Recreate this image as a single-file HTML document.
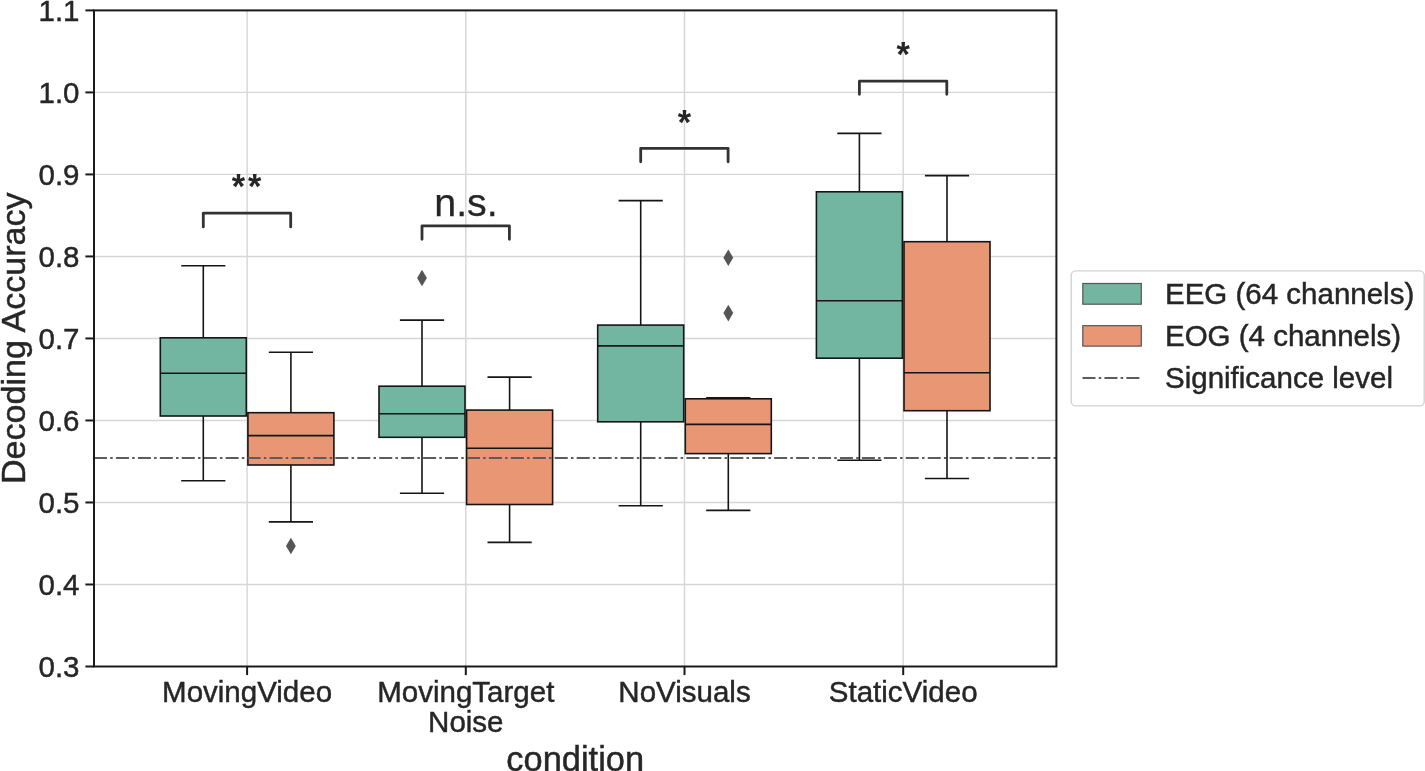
<!DOCTYPE html>
<html><head><meta charset="utf-8"><title>Decoding Accuracy by condition</title>
<style>
html,body{margin:0;padding:0;background:#fff;}
svg{display:block;}
text{font-family:"Liberation Sans",Arial,sans-serif;fill:#262626;stroke:#262626;stroke-width:0.45px;}
.tick{font-size:29.5px;}
.lab{font-size:34.4px;}
.ylab{font-size:34.1px;}
.leg{font-size:29.5px;}
.ann{font-size:39.4px;stroke-width:0.25px;}
.star{font-size:34.3px;font-weight:bold;letter-spacing:2.7px;stroke:none;}
</style></head><body>
<svg width="1425" height="771" viewBox="0 0 1425 771">
<rect x="0" y="0" width="1425" height="771" fill="#ffffff"/>
<g stroke="#d6d6d6" stroke-width="1.4" fill="none">
<line x1="247.1" y1="10.4" x2="247.1" y2="666.5"/>
<line x1="465.8" y1="10.4" x2="465.8" y2="666.5"/>
<line x1="684.5" y1="10.4" x2="684.5" y2="666.5"/>
<line x1="903.2" y1="10.4" x2="903.2" y2="666.5"/>
<line x1="94.0" y1="584.49" x2="1056.4" y2="584.49"/>
<line x1="94.0" y1="502.48" x2="1056.4" y2="502.48"/>
<line x1="94.0" y1="420.46" x2="1056.4" y2="420.46"/>
<line x1="94.0" y1="338.45" x2="1056.4" y2="338.45"/>
<line x1="94.0" y1="256.44" x2="1056.4" y2="256.44"/>
<line x1="94.0" y1="174.42" x2="1056.4" y2="174.42"/>
<line x1="94.0" y1="92.41" x2="1056.4" y2="92.41"/>
</g>
<g stroke="#151515" stroke-width="1.6">
<rect x="160.3" y="337.8" width="86.0" height="78.2" fill="#72b6a1"/>
<rect x="247.9" y="412.7" width="86.0" height="52.3" fill="#e99675"/>
<rect x="379.0" y="386.2" width="86.0" height="51.1" fill="#72b6a1"/>
<rect x="466.6" y="410.1" width="86.0" height="94.4" fill="#e99675"/>
<rect x="597.7" y="325.1" width="86.0" height="96.7" fill="#72b6a1"/>
<rect x="685.3" y="398.8" width="86.0" height="54.8" fill="#e99675"/>
<rect x="816.4" y="191.8" width="86.0" height="166.4" fill="#72b6a1"/>
<rect x="904.0" y="241.7" width="86.0" height="169.0" fill="#e99675"/>
</g>
<line x1="94.0" y1="458.0" x2="1056.4" y2="458.0" stroke="#5c5c5c" stroke-width="2.1" stroke-dasharray="13 3.22 2.5 3.22"/>
<g stroke="#151515" stroke-width="1.6" fill="none">
<line x1="203.3" y1="265.8" x2="203.3" y2="337.8"/>
<line x1="203.3" y1="416.0" x2="203.3" y2="480.8"/>
<line x1="181.2" y1="265.8" x2="225.4" y2="265.8"/>
<line x1="181.2" y1="480.8" x2="225.4" y2="480.8"/>
<line x1="160.3" y1="373.3" x2="246.3" y2="373.3"/>
<line x1="290.9" y1="352.3" x2="290.9" y2="412.7"/>
<line x1="290.9" y1="465.0" x2="290.9" y2="521.9"/>
<line x1="268.8" y1="352.3" x2="313.0" y2="352.3"/>
<line x1="268.8" y1="521.9" x2="313.0" y2="521.9"/>
<line x1="247.9" y1="435.6" x2="333.9" y2="435.6"/>
<line x1="422.0" y1="320.1" x2="422.0" y2="386.2"/>
<line x1="422.0" y1="437.3" x2="422.0" y2="493.3"/>
<line x1="399.9" y1="320.1" x2="444.1" y2="320.1"/>
<line x1="399.9" y1="493.3" x2="444.1" y2="493.3"/>
<line x1="379.0" y1="413.7" x2="465.0" y2="413.7"/>
<line x1="509.6" y1="377.1" x2="509.6" y2="410.1"/>
<line x1="509.6" y1="504.5" x2="509.6" y2="542.4"/>
<line x1="487.5" y1="377.1" x2="531.7" y2="377.1"/>
<line x1="487.5" y1="542.4" x2="531.7" y2="542.4"/>
<line x1="466.6" y1="448.2" x2="552.6" y2="448.2"/>
<line x1="640.7" y1="200.6" x2="640.7" y2="325.1"/>
<line x1="640.7" y1="421.8" x2="640.7" y2="505.8"/>
<line x1="618.6" y1="200.6" x2="662.8" y2="200.6"/>
<line x1="618.6" y1="505.8" x2="662.8" y2="505.8"/>
<line x1="597.7" y1="345.9" x2="683.7" y2="345.9"/>
<line x1="728.3" y1="397.8" x2="728.3" y2="398.8"/>
<line x1="728.3" y1="453.6" x2="728.3" y2="510.4"/>
<line x1="706.2" y1="397.8" x2="750.4" y2="397.8"/>
<line x1="706.2" y1="510.4" x2="750.4" y2="510.4"/>
<line x1="685.3" y1="424.4" x2="771.3" y2="424.4"/>
<line x1="859.4" y1="133.4" x2="859.4" y2="191.8"/>
<line x1="859.4" y1="358.2" x2="859.4" y2="460.3"/>
<line x1="837.3" y1="133.4" x2="881.5" y2="133.4"/>
<line x1="837.3" y1="460.3" x2="881.5" y2="460.3"/>
<line x1="816.4" y1="300.8" x2="902.4" y2="300.8"/>
<line x1="947.0" y1="175.6" x2="947.0" y2="241.7"/>
<line x1="947.0" y1="410.7" x2="947.0" y2="478.5"/>
<line x1="924.9" y1="175.6" x2="969.1" y2="175.6"/>
<line x1="924.9" y1="478.5" x2="969.1" y2="478.5"/>
<line x1="904.0" y1="372.8" x2="990.0" y2="372.8"/>
</g>
<g fill="#555555" stroke="none">
<path d="M290.9 537.7 L295.8 546.0 L290.9 554.3 L286.0 546.0 Z"/>
<path d="M422.0 269.7 L426.9 278.0 L422.0 286.3 L417.1 278.0 Z"/>
<path d="M728.3 249.4 L733.2 257.7 L728.3 266.0 L723.4 257.7 Z"/>
<path d="M728.3 304.8 L733.2 313.1 L728.3 321.4 L723.4 313.1 Z"/>
</g>
<g stroke="#333333" stroke-width="2.8" fill="none" stroke-linecap="round" stroke-linejoin="round">
<path d="M203.3 226.9 L203.3 213.2 L290.7 213.2 L290.7 226.9"/>
<path d="M422.0 239.3 L422.0 225.9 L509.4 225.9 L509.4 239.3"/>
<path d="M640.7 161.8 L640.7 148.3 L728.1 148.3 L728.1 161.8"/>
<path d="M859.4 94.3 L859.4 81.2 L946.8 81.2 L946.8 94.3"/>
</g>
<text class="star" x="247.9" y="198.4" text-anchor="middle">**</text>
<text class="ann" x="466.0" y="216.2" text-anchor="middle">n.s.</text>
<text class="star" x="685.7" y="134" text-anchor="middle">*</text>
<text class="star" x="904.6" y="66.3" text-anchor="middle">*</text>
<rect x="94.0" y="10.4" width="962.4" height="656.1" fill="none" stroke="#1a1a1a" stroke-width="2"/>
<g stroke="#1a1a1a" stroke-width="2">
<line x1="85.4" y1="666.50" x2="94.0" y2="666.50"/>
<line x1="85.4" y1="584.49" x2="94.0" y2="584.49"/>
<line x1="85.4" y1="502.48" x2="94.0" y2="502.48"/>
<line x1="85.4" y1="420.46" x2="94.0" y2="420.46"/>
<line x1="85.4" y1="338.45" x2="94.0" y2="338.45"/>
<line x1="85.4" y1="256.44" x2="94.0" y2="256.44"/>
<line x1="85.4" y1="174.42" x2="94.0" y2="174.42"/>
<line x1="85.4" y1="92.41" x2="94.0" y2="92.41"/>
<line x1="85.4" y1="10.40" x2="94.0" y2="10.40"/>
<line x1="247.1" y1="666.5" x2="247.1" y2="675.1"/>
<line x1="465.8" y1="666.5" x2="465.8" y2="675.1"/>
<line x1="684.5" y1="666.5" x2="684.5" y2="675.1"/>
<line x1="903.2" y1="666.5" x2="903.2" y2="675.1"/>
</g>
<text class="tick" x="79.5" y="677.4" text-anchor="end">0.3</text>
<text class="tick" x="79.5" y="595.4" text-anchor="end">0.4</text>
<text class="tick" x="79.5" y="513.4" text-anchor="end">0.5</text>
<text class="tick" x="79.5" y="431.4" text-anchor="end">0.6</text>
<text class="tick" x="79.5" y="349.4" text-anchor="end">0.7</text>
<text class="tick" x="79.5" y="267.3" text-anchor="end">0.8</text>
<text class="tick" x="79.5" y="185.3" text-anchor="end">0.9</text>
<text class="tick" x="79.5" y="103.3" text-anchor="end">1.0</text>
<text class="tick" x="79.5" y="21.3" text-anchor="end">1.1</text>
<text class="tick" x="247.1" y="702.0" text-anchor="middle">MovingVideo</text>
<text class="tick" x="465.8" y="702.0" text-anchor="middle">MovingTarget</text>
<text class="tick" x="465.8" y="732.2" text-anchor="middle">Noise</text>
<text class="tick" x="684.5" y="702.0" text-anchor="middle">NoVisuals</text>
<text class="tick" x="903.2" y="702.0" text-anchor="middle">StaticVideo</text>
<text class="lab" x="575.2" y="771.3" text-anchor="middle">condition</text>
<text class="ylab" transform="translate(25.3,338.2) rotate(-90)" text-anchor="middle">Decoding Accuracy</text>
<rect x="1071.2" y="270.9" width="353" height="135" rx="4.5" ry="4.5" fill="#ffffff" stroke="#d2d2d2" stroke-width="1.4"/>
<rect x="1082.8" y="283.5" width="58.5" height="20.7" fill="#72b6a1" stroke="#555555" stroke-width="1.2"/>
<rect x="1082.8" y="325.7" width="58.5" height="20.4" fill="#e99675" stroke="#555555" stroke-width="1.2"/>
<line x1="1082.5" y1="377.9" x2="1140.2" y2="377.9" stroke="#5c5c5c" stroke-width="2.0" stroke-dasharray="13 3.22 2.5 3.22"/>
<text class="leg" x="1165.0" y="303.8">EEG (64 channels)</text>
<text class="leg" x="1165.0" y="345.9">EOG (4 channels)</text>
<text class="leg" x="1165.0" y="388.0">Significance level</text>
</svg></body></html>
